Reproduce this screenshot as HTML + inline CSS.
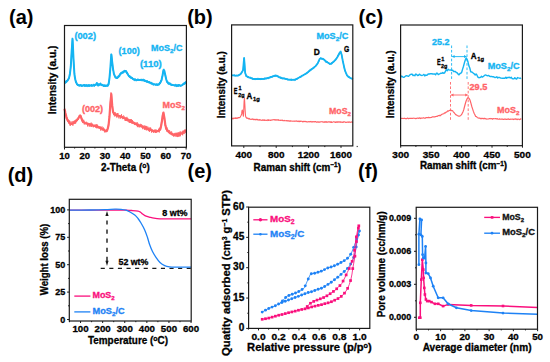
<!DOCTYPE html>
<html><head><meta charset="utf-8"><title>Figure</title>
<style>html,body{margin:0;padding:0;background:#fff;}body{width:550px;height:362px;overflow:hidden;font-family:"Liberation Sans",sans-serif;}svg{display:block;}</style>
</head><body>
<svg width="550" height="362" viewBox="0 0 550 362" font-family="'Liberation Sans', sans-serif">
<rect width="550" height="362" fill="#fff"/>
<text x="9" y="24.3" font-size="20" fill="#000" text-anchor="start" font-weight="bold" >(a)</text>
<text x="187.2" y="24.2" font-size="20" fill="#000" text-anchor="start" font-weight="bold" >(b)</text>
<text x="358.6" y="24.2" font-size="20" fill="#000" text-anchor="start" font-weight="bold" >(c)</text>
<text x="7.7" y="181.6" font-size="20" fill="#000" text-anchor="start" font-weight="bold" >(d)</text>
<text x="187.5" y="177.6" font-size="20" fill="#000" text-anchor="start" font-weight="bold" >(e)</text>
<text x="358" y="177.6" font-size="20" fill="#000" text-anchor="start" font-weight="bold" >(f)</text>
<polyline points="64.5,83 65.4,82.37 66.3,81.68 67.2,80.84 68.1,79.76 69,77.89 69.9,73.97 70.8,66.72 71.7,50.74 72.6,39.07 73.5,58.85 74.4,74 75.3,79.73 76.2,82.59 77.1,84.15 78,85.05 78.9,85.32 79.8,85.38 80.7,85.42 81.6,85.45 82.5,85.48 83.4,85.49 84.3,85.5 85.2,85.5 86.1,85.5 87,85.5 87.9,85.5 88.8,85.5 89.7,85.5 90.6,85.5 91.5,85.5 92.4,85.49 93.3,85.4 94.2,85.21 95.1,84.92 96,84.5 96.9,83.09 97.8,84.99 98.7,84.87 99.6,84.62 100.5,84.21 101.4,84.45 102.3,85.33 103.2,85.4 104.1,85.45 105,85.48 105.9,85.5 106.8,85.5 107.7,85.24 108.6,84.25 109.5,77.8 110.4,67.59 111.3,54.41 112.2,62 113.1,69.37 114,74.21 114.9,76.21 115.8,77.51 116.7,78 117.6,77.54 118.5,76.56 119.4,75.52 120.3,74.26 121.2,73.36 122.1,72.93 123,72.51 123.9,71.38 124.8,70.75 125.7,71.27 126.6,72.21 127.5,73.84 128.4,75.36 129.3,76.27 130.2,76.96 131.1,77.57 132,78.18 132.9,78.79 133.8,79.32 134.7,79.68 135.6,79.83 136.5,79.89 137.4,79.93 138.3,79.96 139.2,80.01 140.1,80.06 141,80.11 141.9,80.16 142.8,80.23 143.7,80.33 144.6,80.55 145.5,80.89 146.4,81.27 147.3,81.61 148.2,81.96 149.1,82.33 150,82.7 150.9,83.06 151.8,83.4 152.7,83.75 153.6,84.1 154.5,84.39 155.4,84.57 156.3,84.71 157.2,84.79 158.1,84.69 159,84.07 159.9,83.11 160.8,81.67 161.7,79.31 162.6,75.16 163.5,69.91 164.4,70.98 165.3,75.31 166.2,79.34 167.1,81.86 168,82.81 168.9,83.44 169.8,83.99 170.7,84.46 171.6,84.78 172.5,84.97 173.4,85.12 174.3,85.24 175.2,85.33 176.1,85.41 177,85.47 177.9,85.53 178.8,85.58 179.7,85.6 180.6,85.54 181.5,85.25 182.4,84.85 183.3,84.18 184.2,83.4 185.1,82.92 186,82.5" fill="none" stroke="#14b4f2" stroke-width="2.0" stroke-linejoin="round"/>
<polyline points="64.5,83.38 64.8,83.97 65.1,83.4 65.4,81.54 65.7,81.55 66,83.05 66.3,80.2 66.6,82.37 66.9,82.02 67.2,80.75 67.5,79.94 67.8,79.51 68.1,79.03 68.4,79.11 68.7,78.7 69,78.05 69.3,78.33 69.6,76.42 69.9,74.33 70.2,73.59 70.5,69.15 70.8,65.7 71.1,62.34 71.4,55.36 71.7,49.34 72,43.17 72.3,37.83 72.6,40.33 72.9,45.83 73.2,52.99 73.5,58.84 73.8,64.09 74.1,68.76 74.4,73.08 74.7,76.95 75,77.36 75.3,79.34 75.6,79.35 75.9,82.78 76.2,81.56 76.5,82.56 76.8,84.91 77.1,84.18 77.4,85.54 77.7,85.22 78,85.78 78.3,84 78.6,85.42 78.9,85.34 79.2,86.46 79.5,84.94 79.8,85.67 80.1,84.07 80.4,85.07 80.7,84.89 81,84.38 81.3,86.39 81.6,85.09 81.9,86.9 82.2,85.74 82.5,85.79 82.8,85.9 83.1,86.02 83.4,84.44 83.7,85.31 84,84.72 84.3,85.21 84.6,84.29 84.9,86.9 85.2,84.65 85.5,86.02 85.8,84.9 86.1,86.62 86.4,85.99 86.7,84.39 87,86.54 87.3,86.83 87.6,86.71 87.9,85.71 88.2,84.44 88.5,84.58 88.8,86.78 89.1,85.66 89.4,84.54 89.7,86.65 90,85.92 90.3,85.71 90.6,85.13 90.9,85.23 91.2,84.72 91.5,84.11 91.8,86.63 92.1,85.4 92.4,85.63 92.7,84.94 93,86.2 93.3,83.98 93.6,84.97 93.9,83.88 94.2,84.08 94.5,86.53 94.8,85.5 95.1,84.7 95.4,84.86 95.7,85.77 96,84.03 96.3,84.23 96.6,83.77 96.9,82.65 97.2,84.06 97.5,85.71 97.8,86.22 98.1,83.92 98.4,86.23 98.7,83.38 99,85.55 99.3,85.64 99.6,83.53 99.9,84.29 100.2,85.35 100.5,82.75 100.8,84.43 101.1,84.91 101.4,84.49 101.7,85.68 102,84.48 102.3,84.42 102.6,84.94 102.9,84.42 103.2,84.94 103.5,86.76 103.8,85.65 104.1,84.97 104.4,84.78 104.7,86.83 105,85.31 105.3,86.93 105.6,85.54 105.9,85.56 106.2,86.69 106.5,86.23 106.8,85.74 107.1,85.25 107.4,86.52 107.7,84.97 108,86.31 108.3,83.5 108.6,84.04 108.9,82.79 109.2,81.83 109.5,77.05 109.8,75.92 110.1,72.2 110.4,68.24 110.7,63.74 111,60.17 111.3,53.91 111.6,54.61 111.9,57.53 112.2,60.65 112.5,63.8 112.8,68.42 113.1,70.39 113.4,70.03 113.7,73.19 114,74.15 114.3,75.3 114.6,76.12 114.9,75.63 115.2,78.1 115.5,77.05 115.8,77.9 116.1,78.18 116.4,76.99 116.7,76.69 117,77.68 117.3,78.57 117.6,78.49 117.9,77.93 118.2,75.75 118.5,77.8 118.8,77.12 119.1,77.03 119.4,75.59 119.7,76.36 120,73.32 120.3,72.85 120.6,72.45 120.9,72.84 121.2,72.61 121.5,72.26 121.8,73.26 122.1,71.55 122.4,73.08 122.7,71.67 123,73.04 123.3,70.86 123.6,71.35 123.9,72.7 124.2,71.02 124.5,71.63 124.8,71.22 125.1,71.2 125.4,70.13 125.7,71.49 126,70.12 126.3,72.7 126.6,73.59 126.9,73.78 127.2,71.92 127.5,73.36 127.8,73.86 128.1,73.76 128.4,75.74 128.7,76.6 129,75.44 129.3,77.35 129.6,77.41 129.9,75.63 130.2,77.76 130.5,78.32 130.8,76.46 131.1,77.79 131.4,78.18 131.7,78.3 132,76.97 132.3,78.87 132.6,78.99 132.9,79.76 133.2,79.89 133.5,78.64 133.8,79.98 134.1,80.56 134.4,80.76 134.7,78.67 135,78.34 135.3,80.25 135.6,78.97 135.9,80.04 136.2,81.2 136.5,79.52 136.8,79.16 137.1,79.78 137.4,80.4 137.7,78.74 138,79.59 138.3,78.87 138.6,80.47 138.9,80.99 139.2,79.64 139.5,79.64 139.8,80.16 140.1,79.2 140.4,79.32 140.7,79.58 141,79.98 141.3,78.87 141.6,80.9 141.9,80.4 142.2,79.58 142.5,78.94 142.8,81.02 143.1,79.15 143.4,79.19 143.7,79.22 144,79.13 144.3,81.68 144.6,79.86 144.9,80.08 145.2,81.77 145.5,81.25 145.8,80.08 146.1,80.95 146.4,82.42 146.7,81.01 147,82.13 147.3,80.4 147.6,82.41 147.9,82.67 148.2,82.94 148.5,82.6 148.8,81.82 149.1,81.02 149.4,82.51 149.7,83.35 150,81.77 150.3,82.12 150.6,83.05 150.9,83.8 151.2,84.36 151.5,82.17 151.8,82.45 152.1,84.41 152.4,84.06 152.7,84.41 153,85.36 153.3,85.31 153.6,85.13 153.9,85.04 154.2,83.99 154.5,84.82 154.8,83.52 155.1,85.3 155.4,85.34 155.7,85.28 156,84.5 156.3,84.34 156.6,84.5 156.9,83.37 157.2,85.82 157.5,84.93 157.8,84.44 158.1,84.84 158.4,85.2 158.7,83.97 159,85.06 159.3,85.03 159.6,83.11 159.9,82.03 160.2,83.52 160.5,83.74 160.8,80.62 161.1,81.62 161.4,81.17 161.7,80.57 162,77.13 162.3,75.59 162.6,76.63 162.9,72.36 163.2,70.84 163.5,70.14 163.8,68.84 164.1,70.35 164.4,70.05 164.7,73.79 165,73.04 165.3,76.11 165.6,75.44 165.9,78.01 166.2,77.94 166.5,80.01 166.8,80.84 167.1,82.51 167.4,82.1 167.7,81.22 168,84.3 168.3,84.21 168.6,84.49 168.9,82.68 169.2,83.31 169.5,83 169.8,82.87 170.1,82.76 170.4,84.33 170.7,83.33 171,83.61 171.3,85.77 171.6,84.73 171.9,83.9 172.2,85.42 172.5,84.26 172.8,85.1 173.1,84.42 173.4,85.17 173.7,85.55 174,85.31 174.3,84.93 174.6,86.15 174.9,86.43 175.2,84.37 175.5,84.27 175.8,84.22 176.1,86.85 176.4,86.75 176.7,84.64 177,86.88 177.3,84.62 177.6,85.53 177.9,85.52 178.2,86.79 178.5,84.18 178.8,85.02 179.1,85.89 179.4,84.29 179.7,84.81 180,85.5 180.3,86.73 180.6,86.32 180.9,86.45 181.2,86.15 181.5,85.88 181.8,86.17 182.1,85.53 182.4,85.55 182.7,84.09 183,83.46 183.3,84.95 183.6,82.89 183.9,84.88 184.2,83.69 184.5,82.71 184.8,84.38 185.1,81.89 185.4,82.83 185.7,81.42 186,83.9" fill="none" stroke="#14b4f2" stroke-width="1.0" stroke-linejoin="round"/>
<polyline points="64.5,108.7 65.4,113.08 66.3,116.59 67.2,119.17 68.1,120.89 69,122.27 69.9,123.43 70.8,123.59 71.7,123.56 72.6,123.49 73.5,123.24 74.4,122.8 75.3,121.99 76.2,120.87 77.1,119.78 78,118.62 78.9,117.29 79.8,115.58 80.7,116.08 81.6,118.74 82.5,120.89 83.4,121.94 84.3,122.59 85.2,123.02 86.1,123.34 87,123.63 87.9,123.91 88.8,124.17 89.7,124.43 90.6,124.68 91.5,124.95 92.4,125.22 93.3,125.49 94.2,125.77 95.1,126.07 96,126.38 96.9,126.7 97.8,127.03 98.7,127.38 99.6,127.74 100.5,128.11 101.4,128.5 102.3,128.9 103.2,129.31 104.1,129.79 105,130.38 105.9,130.89 106.8,131.1 107.7,128.84 108.6,125.1 109.5,116.23 110.4,103.34 111.3,94.07 112.2,105.41 113.1,112.17 114,113.72 114.9,114.45 115.8,114.85 116.7,115.12 117.6,115.37 118.5,115.68 119.4,115.99 120.3,116.32 121.2,116.67 122.1,117.04 123,117.46 123.9,117.91 124.8,118.38 125.7,118.85 126.6,119.31 127.5,119.77 128.4,120.24 129.3,120.7 130.2,121.15 131.1,121.59 132,122.01 132.9,122.43 133.8,122.86 134.7,123.3 135.6,123.77 136.5,124.24 137.4,124.72 138.3,125.16 139.2,125.56 140.1,125.94 141,126.3 141.9,126.65 142.8,127 143.7,127.36 144.6,127.72 145.5,128.07 146.4,128.42 147.3,128.74 148.2,129.06 149.1,129.36 150,129.67 150.9,129.97 151.8,130.31 152.7,130.71 153.6,131.07 154.5,131.33 155.4,131.4 156.3,131.33 157.2,131.18 158.1,130.97 159,130.52 159.9,129.65 160.8,127.36 161.7,122.78 162.6,116 163.5,112.61 164.4,117.84 165.3,124.64 166.2,128.54 167.1,129.99 168,131.14 168.9,132.17 169.8,132.97 170.7,133.5 171.6,133.9 172.5,134.2 173.4,134.45 174.3,134.64 175.2,134.7 176.1,134.68 177,134.63 177.9,134.56 178.8,134.41 179.7,134.18 180.6,133.88 181.5,133.42 182.4,132.86 183.3,132.19 184.2,131.39 185.1,130.74 186,130.3" fill="none" stroke="#ff6468" stroke-width="2.2" stroke-linejoin="round"/>
<polyline points="64.5,109.09 64.8,111.77 65.1,110.55 65.4,114.65 65.7,115.36 66,116.23 66.3,118.93 66.6,117.24 66.9,118.01 67.2,120.17 67.5,121.55 67.8,119.52 68.1,121.77 68.4,119.84 68.7,122.07 69,123.67 69.3,120.47 69.6,124.32 69.9,120.92 70.2,125.97 70.5,123.44 70.8,123.12 71.1,124.73 71.4,123.69 71.7,124.76 72,121.38 72.3,123.84 72.6,123.79 72.9,125.68 73.2,120.96 73.5,122.99 73.8,123.79 74.1,123.22 74.4,120.59 74.7,123.08 75,120.88 75.3,120.41 75.6,123.6 75.9,119.68 76.2,120.63 76.5,121.8 76.8,121.22 77.1,120.05 77.4,121 77.7,118.84 78,119.25 78.3,119.88 78.6,118.73 78.9,118.03 79.2,116.19 79.5,116.38 79.8,115.04 80.1,116.59 80.4,114.82 80.7,115.9 81,118.33 81.3,117.98 81.6,117.9 81.9,121.21 82.2,119.64 82.5,122.68 82.8,122.81 83.1,121.38 83.4,123.05 83.7,119.77 84,121.83 84.3,124.46 84.6,123.17 84.9,123.2 85.2,123.88 85.5,124.06 85.8,123.68 86.1,122.93 86.4,121.79 86.7,122.46 87,122.56 87.3,123.37 87.6,126.42 87.9,123.15 88.2,123.73 88.5,123.42 88.8,124.6 89.1,126.59 89.4,126.37 89.7,123.79 90,123.3 90.3,126.59 90.6,124.65 90.9,125.73 91.2,122.64 91.5,126.86 91.8,124.07 92.1,125.1 92.4,123.65 92.7,124.9 93,127.11 93.3,127.2 93.6,125.45 93.9,127.07 94.2,125.55 94.5,125.21 94.8,126.21 95.1,124.51 95.4,125.21 95.7,127.34 96,127.78 96.3,124.18 96.6,127.8 96.9,128.35 97.2,126.52 97.5,124.65 97.8,127.98 98.1,125.83 98.4,128.01 98.7,126.74 99,128.21 99.3,126.36 99.6,127.62 99.9,127.99 100.2,128.67 100.5,126.57 100.8,130.64 101.1,127.27 101.4,127.49 101.7,127.36 102,126.51 102.3,128.5 102.6,130.45 102.9,130.26 103.2,127.72 103.5,127.56 103.8,128.68 104.1,131.19 104.4,129.92 104.7,132.39 105,131.2 105.3,131.2 105.6,132.13 105.9,132.19 106.2,130.19 106.5,129.81 106.8,130.78 107.1,130.69 107.4,128.03 107.7,128.53 108,128.54 108.3,124.72 108.6,123.22 108.9,121.27 109.2,118.72 109.5,118.63 109.8,109.86 110.1,106.16 110.4,101.6 110.7,98.93 111,92.38 111.3,93.86 111.6,95.54 111.9,100.56 112.2,106.93 112.5,107.29 112.8,111.6 113.1,111.69 113.4,112.47 113.7,115 114,111.96 114.3,116.22 114.6,116.3 114.9,115.32 115.2,112.26 115.5,115.58 115.8,115.37 116.1,116.36 116.4,113.55 116.7,117.48 117,117.21 117.3,113.28 117.6,114.41 117.9,113.03 118.2,117.29 118.5,117.83 118.8,118.33 119.1,116.47 119.4,116.86 119.7,117.03 120,116.58 120.3,118.68 120.6,117 120.9,115.7 121.2,116.74 121.5,114.29 121.8,118.08 122.1,118.05 122.4,116.77 122.7,119.14 123,118.79 123.3,116.76 123.6,115.56 123.9,116 124.2,116.42 124.5,117.2 124.8,118.11 125.1,120.76 125.4,117.54 125.7,120.92 126,119.94 126.3,120.99 126.6,118.8 126.9,116.88 127.2,121.11 127.5,118.45 127.8,118.07 128.1,121.64 128.4,121.2 128.7,118.9 129,119.34 129.3,122.98 129.6,119.65 129.9,122.05 130.2,119.22 130.5,122.94 130.8,119.46 131.1,121.67 131.4,119.31 131.7,122.13 132,123.82 132.3,119.99 132.6,121.12 132.9,123.81 133.2,123.14 133.5,121.74 133.8,123.53 134.1,122.77 134.4,125.04 134.7,122.22 135,124.79 135.3,124.31 135.6,125.02 135.9,123.29 136.2,125.25 136.5,125.28 136.8,123.82 137.1,122.1 137.4,127.12 137.7,125.98 138,123.48 138.3,126.36 138.6,124.15 138.9,125.27 139.2,127.44 139.5,125.42 139.8,124.71 140.1,124.93 140.4,123.86 140.7,124.72 141,125.11 141.3,124.71 141.6,124.26 141.9,126.47 142.2,125.28 142.5,128.12 142.8,129.2 143.1,125.94 143.4,127.61 143.7,127.39 144,125.27 144.3,125.65 144.6,129.72 144.9,127.7 145.2,129.54 145.5,125.82 145.8,128.68 146.1,130.2 146.4,130.32 146.7,125.96 147,128.75 147.3,128.06 147.6,130.2 147.9,126.74 148.2,127.84 148.5,130.79 148.8,129.1 149.1,129.12 149.4,131.9 149.7,128.63 150,127.28 150.3,129.2 150.6,128.06 150.9,127.79 151.2,130.42 151.5,132.54 151.8,130.72 152.1,131.2 152.4,129.66 152.7,131.08 153,132.15 153.3,131.42 153.6,132.65 153.9,131.44 154.2,129.69 154.5,131.76 154.8,131.33 155.1,129.66 155.4,132.02 155.7,133.03 156,129.46 156.3,131.56 156.6,132.5 156.9,130.73 157.2,129.99 157.5,130.45 157.8,131.27 158.1,131.94 158.4,131.17 158.7,128.67 159,132.17 159.3,132.49 159.6,127.92 159.9,128.35 160.2,127.54 160.5,130.29 160.8,129.49 161.1,123.63 161.4,123.64 161.7,121.18 162,120.29 162.3,120.2 162.6,113.76 162.9,112.55 163.2,112.78 163.5,112.73 163.8,115.18 164.1,115.55 164.4,115.98 164.7,119.45 165,125.12 165.3,125.94 165.6,124.5 165.9,129.4 166.2,127.55 166.5,130.58 166.8,127.05 167.1,131.92 167.4,128.61 167.7,130.53 168,131.98 168.3,131.55 168.6,130.11 168.9,130.3 169.2,131.35 169.5,130.41 169.8,131.49 170.1,131.24 170.4,133.15 170.7,132.75 171,134.1 171.3,132.64 171.6,131.48 171.9,133.13 172.2,135.44 172.5,132.93 172.8,133.79 173.1,135.69 173.4,133.96 173.7,136.54 174,136.76 174.3,133.66 174.6,135.91 174.9,133.41 175.2,132.82 175.5,134.37 175.8,135.22 176.1,136.94 176.4,132.82 176.7,135.75 177,134.5 177.3,132.7 177.6,137.05 177.9,135.58 178.2,132.59 178.5,136.58 178.8,132.34 179.1,132.22 179.4,133.39 179.7,136.46 180,131.67 180.3,136.18 180.6,134.46 180.9,131.49 181.2,133.94 181.5,133.2 181.8,133.57 182.1,134.29 182.4,133.79 182.7,135.25 183,130.65 183.3,133.81 183.6,131.46 183.9,133.13 184.2,133.43 184.5,133.71 184.8,129.71 185.1,130.5 185.4,132.89 185.7,132.76 186,129.64" fill="none" stroke="#ff6468" stroke-width="0.9" stroke-linejoin="round"/>
<rect x="64.5" y="25.5" width="121.9" height="121.8" fill="none" stroke="#1a1a1a" stroke-width="1.2"/>
<line x1="64.5" y1="147.3" x2="64.5" y2="149.5" stroke="#1a1a1a" stroke-width="1.0" />
<line x1="74.64" y1="147.3" x2="74.64" y2="148.5" stroke="#1a1a1a" stroke-width="1.0" />
<line x1="84.77" y1="147.3" x2="84.77" y2="149.5" stroke="#1a1a1a" stroke-width="1.0" />
<line x1="94.91" y1="147.3" x2="94.91" y2="148.5" stroke="#1a1a1a" stroke-width="1.0" />
<line x1="105.04" y1="147.3" x2="105.04" y2="149.5" stroke="#1a1a1a" stroke-width="1.0" />
<line x1="115.17" y1="147.3" x2="115.17" y2="148.5" stroke="#1a1a1a" stroke-width="1.0" />
<line x1="125.31" y1="147.3" x2="125.31" y2="149.5" stroke="#1a1a1a" stroke-width="1.0" />
<line x1="135.44" y1="147.3" x2="135.44" y2="148.5" stroke="#1a1a1a" stroke-width="1.0" />
<line x1="145.58" y1="147.3" x2="145.58" y2="149.5" stroke="#1a1a1a" stroke-width="1.0" />
<line x1="155.72" y1="147.3" x2="155.72" y2="148.5" stroke="#1a1a1a" stroke-width="1.0" />
<line x1="165.85" y1="147.3" x2="165.85" y2="149.5" stroke="#1a1a1a" stroke-width="1.0" />
<line x1="175.99" y1="147.3" x2="175.99" y2="148.5" stroke="#1a1a1a" stroke-width="1.0" />
<line x1="186.12" y1="147.3" x2="186.12" y2="149.5" stroke="#1a1a1a" stroke-width="1.0" />
<text x="64.5" y="158.6" font-size="9.6" fill="#000" text-anchor="middle" font-weight="bold" textLength="10.6" lengthAdjust="spacingAndGlyphs" stroke="#000" stroke-width="0.3" >10</text>
<text x="84.77" y="158.6" font-size="9.6" fill="#000" text-anchor="middle" font-weight="bold" textLength="10.6" lengthAdjust="spacingAndGlyphs" stroke="#000" stroke-width="0.3" >20</text>
<text x="105.04" y="158.6" font-size="9.6" fill="#000" text-anchor="middle" font-weight="bold" textLength="10.6" lengthAdjust="spacingAndGlyphs" stroke="#000" stroke-width="0.3" >30</text>
<text x="125.31" y="158.6" font-size="9.6" fill="#000" text-anchor="middle" font-weight="bold" textLength="10.6" lengthAdjust="spacingAndGlyphs" stroke="#000" stroke-width="0.3" >40</text>
<text x="145.58" y="158.6" font-size="9.6" fill="#000" text-anchor="middle" font-weight="bold" textLength="10.6" lengthAdjust="spacingAndGlyphs" stroke="#000" stroke-width="0.3" >50</text>
<text x="165.85" y="158.6" font-size="9.6" fill="#000" text-anchor="middle" font-weight="bold" textLength="10.6" lengthAdjust="spacingAndGlyphs" stroke="#000" stroke-width="0.3" >60</text>
<text x="186.12" y="158.6" font-size="9.6" fill="#000" text-anchor="middle" font-weight="bold" textLength="10.6" lengthAdjust="spacingAndGlyphs" stroke="#000" stroke-width="0.3" >70</text>
<text x="101" y="171.3" font-size="10" fill="#000" text-anchor="start" font-weight="bold" textLength="48.7" lengthAdjust="spacingAndGlyphs" stroke="#000" stroke-width="0.3" >2-Theta (<tspan font-size="7" dy="-3">o</tspan><tspan dy="3">)</tspan></text>
<text x="0" y="0" font-size="10.2" fill="#000" text-anchor="middle" font-weight="bold" textLength="68.6" lengthAdjust="spacingAndGlyphs" stroke="#000" stroke-width="0.3" transform="translate(56.0,80.0) rotate(-90)">Intensity (a.u.)</text>
<text x="74.4" y="39.3" font-size="8.6" fill="#14b4f2" text-anchor="start" font-weight="bold" textLength="21.6" lengthAdjust="spacingAndGlyphs" stroke="#14b4f2" stroke-width="0.3" >(002)</text>
<text x="118.6" y="54.3" font-size="8.6" fill="#14b4f2" text-anchor="start" font-weight="bold" textLength="21.2" lengthAdjust="spacingAndGlyphs" stroke="#14b4f2" stroke-width="0.3" >(100)</text>
<text x="139.9" y="66.5" font-size="8.6" fill="#14b4f2" text-anchor="start" font-weight="bold" textLength="21.9" lengthAdjust="spacingAndGlyphs" stroke="#14b4f2" stroke-width="0.3" >(110)</text>
<text x="151" y="50.8" font-size="8.6" fill="#14b4f2" text-anchor="start" font-weight="bold" textLength="31.5" lengthAdjust="spacingAndGlyphs" stroke="#14b4f2" stroke-width="0.3" >MoS<tspan font-size="6" dy="2">2</tspan><tspan dy="-2">/C</tspan></text>
<text x="81.9" y="112" font-size="8.6" fill="#ff6468" text-anchor="start" font-weight="bold" textLength="21.2" lengthAdjust="spacingAndGlyphs" stroke="#ff6468" stroke-width="0.3" >(002)</text>
<text x="162.6" y="107.6" font-size="8.6" fill="#ff6468" text-anchor="start" font-weight="bold" textLength="22.4" lengthAdjust="spacingAndGlyphs" stroke="#ff6468" stroke-width="0.3" >MoS<tspan font-size="6" dy="2">2</tspan></text>
<polyline points="231.5,75.3 232.55,75.39 233.6,75.47 234.65,75.55 235.7,75.63 236.75,75.69 237.8,75.63 238.85,75.17 239.9,74.56 240.95,73.7 242,72.08 243.05,70.05 244.1,57.8 245.15,72.83 246.2,75.74 247.25,76.53 248.3,77.1 249.35,77.55 250.4,77.96 251.45,78.39 252.5,78.77 253.55,78.98 254.6,79 255.65,79 256.7,79 257.75,79 258.8,79 259.85,79 260.9,79 261.95,79 263,78.97 264.05,78.84 265.1,78.66 266.15,78.47 267.2,78.25 268.25,77.97 269.3,77.65 270.35,77.32 271.4,76.91 272.45,76.47 273.5,76.17 274.55,75.91 275.6,75.73 276.65,75.76 277.7,76.26 278.75,76.88 279.8,77.35 280.85,77.8 281.9,78.17 282.95,78.43 284,78.64 285.05,78.83 286.1,79.02 287.15,79.24 288.2,79.46 289.25,79.64 290.3,79.71 291.35,79.75 292.4,79.78 293.45,79.8 294.5,79.76 295.55,79.44 296.6,78.92 297.65,78.33 298.7,77.81 299.75,77.27 300.8,76.69 301.85,76.09 302.9,75.47 303.95,74.83 305,74.17 306.05,73.48 307.1,72.74 308.15,71.94 309.2,71.12 310.25,70.31 311.3,69.55 312.35,68.78 313.4,67.93 314.45,67.05 315.5,66.1 316.55,64.97 317.6,63.51 318.65,61.22 319.7,58.93 320.75,58.27 321.8,58.58 322.85,58.87 323.9,59.48 324.95,60.46 326,61.4 327.05,62.17 328.1,62.78 329.15,63.39 330.2,63.94 331.25,63.71 332.3,62.68 333.35,61.84 334.4,60.98 335.45,59.89 336.5,58.5 337.55,56.72 338.6,54.72 339.65,52.75 340.7,51.55 341.75,55.32 342.8,60.98 343.85,65.77 344.9,70.41 345.95,72.89 347,75.29 348.05,76.5 349.1,77.27 350.15,77.84 351.2,78.28 352.25,78.64" fill="none" stroke="#14b4f2" stroke-width="1.8" stroke-linejoin="round"/>
<polyline points="231.5,76.18 231.85,75.14 232.2,75.11 232.55,75.9 232.9,75.36 233.25,75.34 233.6,75.24 233.95,75.36 234.3,74.8 234.65,74.67 235,76.09 235.35,75.73 235.7,75.98 236.05,76.26 236.4,75.14 236.75,75.16 237.1,75.25 237.45,75.3 237.8,76.15 238.15,75.26 238.5,75 238.85,75.44 239.2,74.34 239.55,73.98 239.9,74.95 240.25,74.83 240.6,73.63 240.95,73.98 241.3,72.39 241.65,72.62 242,72.24 242.35,70.81 242.7,70.38 243.05,70.27 243.4,67.24 243.75,61.69 244.1,58.21 244.45,59.37 244.8,67.72 245.15,72.24 245.5,73.95 245.85,74.67 246.2,76.73 246.55,75.64 246.9,76.53 247.25,77.51 247.6,77.64 247.95,76.01 248.3,77.14 248.65,77.46 249,77.81 249.35,77.22 249.7,77.34 250.05,76.83 250.4,77.03 250.75,78.2 251.1,77.4 251.45,77.79 251.8,78.19 252.15,77.79 252.5,77.83 252.85,79.72 253.2,78.81 253.55,78.39 253.9,79.42 254.25,78.02 254.6,78.49 254.95,79.92 255.3,79.8 255.65,79.27 256,78.19 256.35,78.64 256.7,78.06 257.05,78.44 257.4,78.05 257.75,78.25 258.1,79.27 258.45,78.2 258.8,78.31 259.15,79.81 259.5,78.67 259.85,78.67 260.2,78.17 260.55,79.59 260.9,79.35 261.25,79.09 261.6,79.24 261.95,78.2 262.3,78.52 262.65,79.16 263,79.87 263.35,79.57 263.7,79.17 264.05,78.88 264.4,77.82 264.75,79.51 265.1,77.8 265.45,77.86 265.8,78.92 266.15,79.1 266.5,78.98 266.85,78.23 267.2,77.6 267.55,77.23 267.9,78.77 268.25,78.92 268.6,77.35 268.95,78.49 269.3,77.46 269.65,77.16 270,77.44 270.35,76.33 270.7,77.08 271.05,76.46 271.4,77.33 271.75,76.76 272.1,77.35 272.45,77.27 272.8,75.99 273.15,75.82 273.5,77.05 273.85,76.09 274.2,75.18 274.55,75 274.9,76.82 275.25,75.93 275.6,74.84 275.95,75.73 276.3,75.71 276.65,75.63 277,76.79 277.35,76.96 277.7,75.51 278.05,75.78 278.4,76.5 278.75,77.55 279.1,77.29 279.45,77.66 279.8,77.51 280.15,76.93 280.5,78.3 280.85,76.83 281.2,78.34 281.55,77.45 281.9,78.11 282.25,79.22 282.6,78.43 282.95,77.55 283.3,78.36 283.65,78.9 284,77.76 284.35,78.21 284.7,77.8 285.05,78.91 285.4,78.65 285.75,78.96 286.1,78.61 286.45,79.4 286.8,78.51 287.15,80.05 287.5,80.24 287.85,79.38 288.2,79.39 288.55,80.25 288.9,79.17 289.25,80.24 289.6,79.25 289.95,80.14 290.3,79.38 290.65,79.93 291,80.59 291.35,78.86 291.7,80.38 292.05,79.86 292.4,79.54 292.75,79.49 293.1,78.93 293.45,79.31 293.8,80.05 294.15,78.99 294.5,80.1 294.85,80.61 295.2,80.53 295.55,80.21 295.9,79.89 296.25,78.46 296.6,79.86 296.95,78.13 297.3,79.26 297.65,79.09 298,78.39 298.35,78.02 298.7,77.21 299.05,77.67 299.4,77.03 299.75,76.52 300.1,76.33 300.45,77.49 300.8,77.53 301.15,75.77 301.5,75.32 301.85,75.61 302.2,75.15 302.55,75.06 302.9,75.64 303.25,75.11 303.6,74.91 303.95,74.24 304.3,74.94 304.65,73.97 305,73.97 305.35,73.87 305.7,74.52 306.05,72.97 306.4,73.68 306.75,72.61 307.1,73.53 307.45,72.27 307.8,72.23 308.15,72.7 308.5,72.02 308.85,70.58 309.2,70.39 309.55,71.83 309.9,69.63 310.25,69.91 310.6,70.97 310.95,68.83 311.3,68.88 311.65,68.73 312,68.22 312.35,68.73 312.7,68.7 313.05,67.86 313.4,67.15 313.75,68.26 314.1,67.95 314.45,67.17 314.8,66.02 315.15,66.51 315.5,66.36 315.85,65.61 316.2,66.1 316.55,64.75 316.9,64.56 317.25,63.3 317.6,63.63 317.95,63.33 318.3,62.47 318.65,60.74 319,61.48 319.35,60.17 319.7,58.78 320.05,58.18 320.4,58.76 320.75,57.62 321.1,58.65 321.45,58.92 321.8,58.61 322.15,59.41 322.5,58.69 322.85,58.79 323.2,58.57 323.55,60.04 323.9,59.11 324.25,60.19 324.6,59.95 324.95,61.33 325.3,61.66 325.65,60.14 326,62.39 326.35,61.9 326.7,61.09 327.05,62.16 327.4,61.49 327.75,62.69 328.1,62.16 328.45,62.71 328.8,62.78 329.15,63.6 329.5,64.25 329.85,64.67 330.2,63.6 330.55,64.14 330.9,62.94 331.25,63.46 331.6,64.31 331.95,62.27 332.3,63.42 332.65,62.69 333,61.7 333.35,62.4 333.7,61.14 334.05,62.07 334.4,60.14 334.75,59.89 335.1,60.79 335.45,59.79 335.8,58.75 336.15,59.02 336.5,58.09 336.85,58.06 337.2,57.84 337.55,57.43 337.9,55.19 338.25,55.6 338.6,55.68 338.95,53.92 339.3,53.88 339.65,51.94 340,52.86 340.35,51.79 340.7,52.32 341.05,52.89 341.4,54.35 341.75,54.44 342.1,58.06 342.45,58.82 342.8,60.51 343.15,62.1 343.5,64.18 343.85,66.03 344.2,68.49 344.55,68.28 344.9,69.8 345.25,71.05 345.6,72.75 345.95,72.99 346.3,73.75 346.65,75.09 347,75.6 347.35,75.37 347.7,75.35 348.05,76.42 348.4,77.54 348.75,77.23 349.1,76.37 349.45,77.36 349.8,77.44 350.15,78.01 350.5,78.17 350.85,79.05 351.2,77.96 351.55,78.22 351.9,78.75 352.25,79.41 352.6,79.17 352.95,78.82" fill="none" stroke="#14b4f2" stroke-width="1.0" stroke-linejoin="round"/>
<polyline points="231.5,118.85 231.85,118.55 232.2,118.89 232.55,118.3 232.9,118.14 233.25,118.66 233.6,118.19 233.95,118.59 234.3,118.36 234.65,118.25 235,117.87 235.35,118.39 235.7,117.79 236.05,118.48 236.4,118.39 236.75,117.91 237.1,117.74 237.45,118.32 237.8,117.96 238.15,117.64 238.5,117.89 238.85,117.63 239.2,117.66 239.55,117.63 239.9,117.53 240.25,117.04 240.6,116.1 240.95,115.81 241.3,115.06 241.65,113.9 242,110.65 242.35,109.96 242.7,112.36 243.05,114.51 243.4,116.31 243.75,109.7 244.1,101.47 244.45,97.91 244.8,103.74 245.15,110.36 245.5,115.62 245.85,117.15 246.2,117.29 246.55,118.07 246.9,118.27 247.25,118.47 247.6,118.07 247.95,118 248.3,118.43 248.65,118.99 249,118.93 249.35,118.45 249.7,119.03 250.05,119.26 250.4,119.36 250.75,119.21 251.1,119.37 251.45,119.39 251.8,119.04 252.15,118.87 252.5,119.4 252.85,118.96 253.2,119.18 253.55,119.7 253.9,119.38 254.25,119.37 254.6,119.74 254.95,119.23 255.3,119.83 255.65,119.8 256,119.39 256.35,119.4 256.7,119.28 257.05,119.96 257.4,119.42 257.75,119.33 258.1,120.09 258.45,119.91 258.8,120.02 259.15,120.12 259.5,119.62 259.85,119.7 260.2,120.07 260.55,119.75 260.9,120.15 261.25,120.36 261.6,120.31 261.95,120.29 262.3,119.84 262.65,119.99 263,120.52 263.35,119.9 263.7,120.23 264.05,119.84 264.4,120.55 264.75,119.94 265.1,120.13 265.45,120.24 265.8,120.37 266.15,120.55 266.5,120.39 266.85,120.08 267.2,119.86 267.55,120.37 267.9,120.58 268.25,119.81 268.6,120.41 268.95,119.92 269.3,120.13 269.65,120.17 270,120.22 270.35,120.5 270.7,120.23 271.05,119.97 271.4,120.21 271.75,119.99 272.1,119.92 272.45,119.86 272.8,119.94 273.15,119.74 273.5,119.69 273.85,119.58 274.2,119.79 274.55,119.66 274.9,120.08 275.25,120.08 275.6,119.68 275.95,119.9 276.3,120.14 276.65,119.72 277,119.89 277.35,119.82 277.7,120 278.05,120.27 278.4,119.64 278.75,120.34 279.1,120.14 279.45,120.29 279.8,120.21 280.15,120.45 280.5,120.07 280.85,120.42 281.2,120.12 281.55,120.36 281.9,120.54 282.25,120.18 282.6,120.11 282.95,120.72 283.3,120.77 283.65,120.68 284,120.44 284.35,120.74 284.7,120.31 285.05,120.8 285.4,120.76 285.75,120.82 286.1,120.71 286.45,120.56 286.8,120.98 287.15,120.8 287.5,121.05 287.85,120.76 288.2,120.57 288.55,120.95 288.9,121.04 289.25,121.3 289.6,121.29 289.95,120.64 290.3,121.23 290.65,120.84 291,121.21 291.35,120.97 291.7,120.94 292.05,121.09 292.4,121.14 292.75,121.29 293.1,121.26 293.45,121.3 293.8,121.08 294.15,121.33 294.5,121.08 294.85,121.3 295.2,121.2 295.55,121.29 295.9,120.87 296.25,121.27 296.6,121.06 296.95,121.2 297.3,120.97 297.65,121.44 298,121.65 298.35,121.23 298.7,121.04 299.05,121.46 299.4,121.08 299.75,121.7 300.1,121.1 300.45,121.3 300.8,121.42 301.15,121.13 301.5,121.31 301.85,121.28 302.2,121.64 302.55,121.87 302.9,121.39 303.25,121.74 303.6,121.23 303.95,121.59 304.3,121.49 304.65,121.38 305,121.82 305.35,121.77 305.7,121.29 306.05,121.43 306.4,121.86 306.75,122.01 307.1,121.71 307.45,121.93 307.8,122.03 308.15,121.85 308.5,121.78 308.85,121.45 309.2,121.58 309.55,121.79 309.9,122.04 310.25,121.55 310.6,121.63 310.95,121.34 311.3,121.89 311.65,121.69 312,121.99 312.35,121.54 312.7,121.89 313.05,121.91 313.4,121.75 313.75,121.54 314.1,121.72 314.45,122 314.8,121.56 315.15,121.49 315.5,121.79 315.85,121.62 316.2,122.08 316.55,122.1 316.9,122.21 317.25,122.13 317.6,121.98 317.95,121.62 318.3,122.13 318.65,122.06 319,122.08 319.35,122.05 319.7,122.16 320.05,121.74 320.4,122.04 320.75,121.92 321.1,121.78 321.45,121.78 321.8,121.65 322.15,121.92 322.5,121.82 322.85,121.87 323.2,122.22 323.55,122.09 323.9,122.09 324.25,122.33 324.6,121.72 324.95,121.96 325.3,121.63 325.65,121.87 326,122.32 326.35,121.64 326.7,122.18 327.05,122.26 327.4,121.98 327.75,122.22 328.1,121.93 328.45,121.87 328.8,121.99 329.15,121.75 329.5,121.84 329.85,121.84 330.2,122.39 330.55,121.87 330.9,121.79 331.25,122.36 331.6,121.73 331.95,122.39 332.3,122.31 332.65,122.14 333,121.97 333.35,121.79 333.7,121.72 334.05,121.72 334.4,121.92 334.75,121.97 335.1,122.39 335.45,122.09 335.8,122.45 336.15,122.24 336.5,121.78 336.85,122.11 337.2,121.8 337.55,121.71 337.9,122.44 338.25,121.95 338.6,121.84 338.95,121.77 339.3,122.22 339.65,122.07 340,121.71 340.35,122.28 340.7,121.91 341.05,122.33 341.4,122.1 341.75,122.14 342.1,122.08 342.45,122.26 342.8,122.52 343.15,122.36 343.5,121.78 343.85,122.13 344.2,121.92 344.55,121.82 344.9,121.9 345.25,121.94 345.6,122.51 345.95,122.34 346.3,122.43 346.65,122.31 347,122.01 347.35,122.07 347.7,122.11 348.05,122 348.4,122.1 348.75,122.39 349.1,121.83 349.45,121.99 349.8,122.16 350.15,122.32 350.5,122.3 350.85,122.36 351.2,121.87 351.55,121.93 351.9,122.04 352.25,122.02 352.6,122.4 352.95,122.59" fill="none" stroke="#ff6468" stroke-width="1.1" stroke-linejoin="round"/>
<rect x="231.6" y="24.9" width="121.2" height="121" fill="none" stroke="#1a1a1a" stroke-width="1.2"/>
<line x1="243.8" y1="145.9" x2="243.8" y2="147.9" stroke="#1a1a1a" stroke-width="1.0" />
<line x1="260" y1="145.9" x2="260" y2="147.1" stroke="#1a1a1a" stroke-width="1.0" />
<line x1="276.2" y1="145.9" x2="276.2" y2="147.9" stroke="#1a1a1a" stroke-width="1.0" />
<line x1="292.4" y1="145.9" x2="292.4" y2="147.1" stroke="#1a1a1a" stroke-width="1.0" />
<line x1="308.6" y1="145.9" x2="308.6" y2="147.9" stroke="#1a1a1a" stroke-width="1.0" />
<line x1="324.8" y1="145.9" x2="324.8" y2="147.1" stroke="#1a1a1a" stroke-width="1.0" />
<line x1="341" y1="145.9" x2="341" y2="147.9" stroke="#1a1a1a" stroke-width="1.0" />
<line x1="357.2" y1="145.9" x2="357.2" y2="147.1" stroke="#1a1a1a" stroke-width="1.0" />
<text x="243.8" y="157.5" font-size="9.6" fill="#000" text-anchor="middle" font-weight="bold" textLength="16.6" lengthAdjust="spacingAndGlyphs" stroke="#000" stroke-width="0.3" >400</text>
<text x="276.2" y="157.5" font-size="9.6" fill="#000" text-anchor="middle" font-weight="bold" textLength="16.6" lengthAdjust="spacingAndGlyphs" stroke="#000" stroke-width="0.3" >800</text>
<text x="308.6" y="157.5" font-size="9.6" fill="#000" text-anchor="middle" font-weight="bold" textLength="21.8" lengthAdjust="spacingAndGlyphs" stroke="#000" stroke-width="0.3" >1200</text>
<text x="341" y="157.5" font-size="9.6" fill="#000" text-anchor="middle" font-weight="bold" textLength="21.8" lengthAdjust="spacingAndGlyphs" stroke="#000" stroke-width="0.3" >1600</text>
<text x="253.6" y="170.5" font-size="10" fill="#000" text-anchor="start" font-weight="bold" textLength="87.4" lengthAdjust="spacingAndGlyphs" stroke="#000" stroke-width="0.3" >Raman shift (cm<tspan font-size="6.5" dy="-3.5">&#8722;1</tspan><tspan dy="3.5">)</tspan></text>
<text x="0" y="0" font-size="10.2" fill="#000" text-anchor="middle" font-weight="bold" textLength="67" lengthAdjust="spacingAndGlyphs" stroke="#000" stroke-width="0.3" transform="translate(224.9,84.7) rotate(-90)">Intensity (a.u.)</text>
<text x="316.5" y="38.6" font-size="8.6" fill="#14b4f2" text-anchor="start" font-weight="bold" textLength="31.8" lengthAdjust="spacingAndGlyphs" stroke="#14b4f2" stroke-width="0.3" >MoS<tspan font-size="6" dy="2">2</tspan><tspan dy="-2">/C</tspan></text>
<text x="313.7" y="54.8" font-size="8.6" fill="#000" text-anchor="start" font-weight="bold" textLength="6.1" lengthAdjust="spacingAndGlyphs" stroke="#000" stroke-width="0.3" >D</text>
<text x="343.9" y="51.9" font-size="8.6" fill="#000" text-anchor="start" font-weight="bold" textLength="5.3" lengthAdjust="spacingAndGlyphs" stroke="#000" stroke-width="0.3" >G</text>
<text x="233.7" y="93.9" font-size="8.6" fill="#000" text-anchor="start" font-weight="bold" textLength="3.7" lengthAdjust="spacingAndGlyphs" stroke="#000" stroke-width="0.3" >E</text>
<text x="238.6" y="90.4" font-size="5.5" fill="#000" text-anchor="start" font-weight="bold" stroke="#000" stroke-width="0.3" >1</text>
<text x="238.2" y="96.8" font-size="5.8" fill="#000" text-anchor="start" font-weight="bold" textLength="6.3" lengthAdjust="spacingAndGlyphs" stroke="#000" stroke-width="0.3" >2g</text>
<text x="246.4" y="98.9" font-size="8.6" fill="#000" text-anchor="start" font-weight="bold" textLength="5.8" lengthAdjust="spacingAndGlyphs" stroke="#000" stroke-width="0.3" >A</text>
<text x="253" y="101.4" font-size="5.8" fill="#000" text-anchor="start" font-weight="bold" stroke="#000" stroke-width="0.3" >1g</text>
<text x="329" y="113.7" font-size="8.6" fill="#ff6468" text-anchor="start" font-weight="bold" textLength="22" lengthAdjust="spacingAndGlyphs" stroke="#ff6468" stroke-width="0.3" >MoS<tspan font-size="6" dy="2">2</tspan></text>
<polyline points="400.5,77.57 401.4,76.09 402.3,76.45 403.2,77.28 404.1,77.35 405,76.52 405.9,75.87 406.8,75.72 407.7,76.1 408.6,76.38 409.5,75.14 410.4,74.66 411.3,74.12 412.2,74.25 413.1,75.58 414,75.06 414.9,75.78 415.8,73.96 416.7,74.58 417.6,75.48 418.5,75.26 419.4,74.12 420.3,74.83 421.2,75.34 422.1,75.47 423,75 423.9,74.46 424.8,75.96 425.7,74.89 426.6,75.31 427.5,74.84 428.4,73.83 429.3,74.05 430.2,73.61 431.1,73.79 432,73.75 432.9,74.13 433.8,73.9 434.7,73.94 435.6,74.81 436.5,73.17 437.4,73.28 438.3,74.62 439.2,73.99 440.1,73.68 441,73.13 441.9,73.41 442.8,72.43 443.7,73.33 444.6,72.84 445.5,71.12 446.4,69.66 447.3,70.72 448.2,69.3 449.1,69.86 450,70.16 450.9,70 451.8,70.32 452.7,70.12 453.6,71.53 454.5,71.38 455.4,71.54 456.3,72.54 457.2,72.79 458.1,74.18 459,74.85 459.9,73.54 460.8,73.27 461.7,72.29 462.6,69.15 463.5,66.23 464.4,62.83 465.3,60.04 466.2,57.86 467.1,59.59 468,61.88 468.9,65.9 469.8,68 470.7,71.71 471.6,71.96 472.5,72.34 473.4,73.37 474.3,73.84 475.2,75.01 476.1,74.05 477,75.17 477.9,77.22 478.8,77.73 479.7,77.55 480.6,77.3 481.5,76.29 482.4,77.15 483.3,76.49 484.2,75.69 485.1,74.93 486,75.13 486.9,75.62 487.8,75.73 488.7,75.4 489.6,76.28 490.5,76.52 491.4,76.36 492.3,76.72 493.2,76.76 494.1,76.97 495,77.54 495.9,77.34 496.8,76.78 497.7,78.01 498.6,77.47 499.5,77.39 500.4,77.95 501.3,78.07 502.2,78.32 503.1,78.3 504,78.08 504.9,78.24 505.8,77.16 506.7,78.3 507.6,77.46 508.5,77.53 509.4,77.3 510.3,77.91 511.2,77.22 512.1,78.55 513,78.79 513.9,78.9 514.8,77.65 515.7,78.71 516.6,79.14 517.5,77.56 518.4,77.9 519.3,78.07 520.2,78.49 521.1,77.93" fill="none" stroke="#14b4f2" stroke-width="1.4" stroke-linejoin="round"/>
<polyline points="400.5,118.43 401.3,118.29 402.1,118.51 402.9,118.42 403.7,118.53 404.5,118.22 405.3,118.54 406.1,118.56 406.9,118.56 407.7,118.1 408.5,118.71 409.3,118.45 410.1,118.24 410.9,118.35 411.7,118.41 412.5,118.41 413.3,118.22 414.1,118.24 414.9,118.3 415.7,118.59 416.5,118.34 417.3,118.04 418.1,118.3 418.9,118.1 419.7,117.93 420.5,118.56 421.3,118.03 422.1,118.15 422.9,117.97 423.7,117.7 424.5,118.23 425.3,118.18 426.1,117.59 426.9,117.68 427.7,117.57 428.5,117.35 429.3,117.61 430.1,117.61 430.9,117.51 431.7,117.37 432.5,116.8 433.3,116.83 434.1,116.89 434.9,116.87 435.7,116.48 436.5,116.34 437.3,116.42 438.1,115.64 438.9,115.58 439.7,115.36 440.5,115.55 441.3,114.65 442.1,114.13 442.9,113.99 443.7,113.75 444.5,112.97 445.3,113 446.1,112.09 446.9,111.91 447.7,110.97 448.5,111.07 449.3,110.31 450.1,110.49 450.9,110.58 451.7,110.43 452.5,110.71 453.3,111.76 454.1,112.72 454.9,113.7 455.7,114.61 456.5,115 457.3,115.5 458.1,115.87 458.9,116.12 459.7,116.09 460.5,115.67 461.3,114.93 462.1,113.58 462.9,111.92 463.7,109.88 464.5,106.73 465.3,103.74 466.1,101 466.9,99.16 467.7,97.95 468.5,97.76 469.3,98.74 470.1,100.33 470.9,103.1 471.7,106.19 472.5,108.59 473.3,111.14 474.1,113.16 474.9,114.68 475.7,116.47 476.5,116.68 477.3,117.37 478.1,118 478.9,118.14 479.7,118.08 480.5,118.66 481.3,118.38 482.1,118.57 482.9,118.27 483.7,118.87 484.5,118.35 485.3,118.59 486.1,118.96 486.9,119.03 487.7,119.02 488.5,118.99 489.3,118.6 490.1,118.47 490.9,118.79 491.7,118.54 492.5,119.18 493.3,118.53 494.1,118.77 494.9,118.7 495.7,118.58 496.5,118.93 497.3,118.65 498.1,119.24 498.9,119.11 499.7,118.9 500.5,119.25 501.3,119.23 502.1,118.92 502.9,119.31 503.7,119.38 504.5,119.18 505.3,119.01 506.1,119.41 506.9,119.46 507.7,119.06 508.5,118.89 509.3,119.45 510.1,119.32 510.9,119.02 511.7,119.27 512.5,119.09 513.3,119.53 514.1,119.13 514.9,119.04 515.7,118.93 516.5,119.15 517.3,119.61 518.1,119.08 518.9,119.25 519.7,119.62 520.5,118.95 521.3,119.15" fill="none" stroke="#ff6468" stroke-width="1.2" stroke-linejoin="round"/>
<rect x="400.6" y="25" width="121.8" height="120.7" fill="none" stroke="#1a1a1a" stroke-width="1.2"/>
<line x1="400.7" y1="145.7" x2="400.7" y2="147.7" stroke="#1a1a1a" stroke-width="1.0" />
<line x1="415.92" y1="145.7" x2="415.92" y2="146.9" stroke="#1a1a1a" stroke-width="1.0" />
<line x1="431.14" y1="145.7" x2="431.14" y2="147.7" stroke="#1a1a1a" stroke-width="1.0" />
<line x1="446.36" y1="145.7" x2="446.36" y2="146.9" stroke="#1a1a1a" stroke-width="1.0" />
<line x1="461.58" y1="145.7" x2="461.58" y2="147.7" stroke="#1a1a1a" stroke-width="1.0" />
<line x1="476.8" y1="145.7" x2="476.8" y2="146.9" stroke="#1a1a1a" stroke-width="1.0" />
<line x1="492.02" y1="145.7" x2="492.02" y2="147.7" stroke="#1a1a1a" stroke-width="1.0" />
<line x1="507.24" y1="145.7" x2="507.24" y2="146.9" stroke="#1a1a1a" stroke-width="1.0" />
<line x1="522.46" y1="145.7" x2="522.46" y2="147.7" stroke="#1a1a1a" stroke-width="1.0" />
<text x="400.7" y="157.5" font-size="9.6" fill="#000" text-anchor="middle" font-weight="bold" textLength="16.8" lengthAdjust="spacingAndGlyphs" stroke="#000" stroke-width="0.3" >300</text>
<text x="431.13" y="157.5" font-size="9.6" fill="#000" text-anchor="middle" font-weight="bold" textLength="16.8" lengthAdjust="spacingAndGlyphs" stroke="#000" stroke-width="0.3" >350</text>
<text x="461.56" y="157.5" font-size="9.6" fill="#000" text-anchor="middle" font-weight="bold" textLength="16.8" lengthAdjust="spacingAndGlyphs" stroke="#000" stroke-width="0.3" >400</text>
<text x="491.99" y="157.5" font-size="9.6" fill="#000" text-anchor="middle" font-weight="bold" textLength="16.8" lengthAdjust="spacingAndGlyphs" stroke="#000" stroke-width="0.3" >450</text>
<text x="522.42" y="157.5" font-size="9.6" fill="#000" text-anchor="middle" font-weight="bold" textLength="16.8" lengthAdjust="spacingAndGlyphs" stroke="#000" stroke-width="0.3" >500</text>
<text x="419.9" y="169.1" font-size="10" fill="#000" text-anchor="start" font-weight="bold" textLength="87.1" lengthAdjust="spacingAndGlyphs" stroke="#000" stroke-width="0.3" >Raman shift (cm<tspan font-size="6.5" dy="-3.5">&#8722;1</tspan><tspan dy="3.5">)</tspan></text>
<text x="0" y="0" font-size="10.2" fill="#000" text-anchor="middle" font-weight="bold" textLength="67.8" lengthAdjust="spacingAndGlyphs" stroke="#000" stroke-width="0.3" transform="translate(393.6,84.3) rotate(-90)">Intensity (a.u.)</text>
<line x1="451.6" y1="45.5" x2="451.6" y2="80.5" stroke="#14b4f2" stroke-width="0.9" stroke-dasharray="2.6,1.8"/>
<line x1="467" y1="45.5" x2="467" y2="80.5" stroke="#14b4f2" stroke-width="0.9" stroke-dasharray="2.6,1.8"/>
<line x1="452.2" y1="56.6" x2="466.4" y2="56.6" stroke="#14b4f2" stroke-width="0.9" />
<path d="M452,56.6 l2.6,-1.5 v3z M466.6,56.6 l-2.6,-1.5 v3z" fill="#14b4f2"/>
<line x1="450.5" y1="82" x2="450.5" y2="120.5" stroke="#ff6468" stroke-width="0.9" stroke-dasharray="2.6,1.8"/>
<line x1="468.2" y1="82" x2="468.2" y2="120.5" stroke="#ff6468" stroke-width="0.9" stroke-dasharray="2.6,1.8"/>
<line x1="451.1" y1="95" x2="467.6" y2="95" stroke="#ff6468" stroke-width="0.9" />
<path d="M450.9,95 l2.6,-1.5 v3z M467.8,95 l-2.6,-1.5 v3z" fill="#ff6468"/>
<text x="432" y="44.9" font-size="8.6" fill="#14b4f2" text-anchor="start" font-weight="bold" textLength="17.4" lengthAdjust="spacingAndGlyphs" stroke="#14b4f2" stroke-width="0.3" >25.2</text>
<text x="469.5" y="90" font-size="8.6" fill="#ff6468" text-anchor="start" font-weight="bold" textLength="17.8" lengthAdjust="spacingAndGlyphs" stroke="#ff6468" stroke-width="0.3" >29.5</text>
<text x="437.1" y="64.9" font-size="8.6" fill="#000" text-anchor="start" font-weight="bold" textLength="3.7" lengthAdjust="spacingAndGlyphs" stroke="#000" stroke-width="0.3" >E</text>
<text x="441.3" y="61" font-size="5.5" fill="#000" text-anchor="start" font-weight="bold" stroke="#000" stroke-width="0.3" >1</text>
<text x="441.1" y="68" font-size="5.8" fill="#000" text-anchor="start" font-weight="bold" textLength="6.3" lengthAdjust="spacingAndGlyphs" stroke="#000" stroke-width="0.3" >2g</text>
<text x="470.7" y="58.6" font-size="8.6" fill="#000" text-anchor="start" font-weight="bold" textLength="5.8" lengthAdjust="spacingAndGlyphs" stroke="#000" stroke-width="0.3" >A</text>
<text x="477.3" y="61.2" font-size="5.8" fill="#000" text-anchor="start" font-weight="bold" stroke="#000" stroke-width="0.3" >1g</text>
<text x="487.7" y="69.2" font-size="8.6" fill="#14b4f2" text-anchor="start" font-weight="bold" textLength="31.9" lengthAdjust="spacingAndGlyphs" stroke="#14b4f2" stroke-width="0.3" >MoS<tspan font-size="6" dy="2">2</tspan><tspan dy="-2">/C</tspan></text>
<text x="497" y="112.8" font-size="8.6" fill="#ff6468" text-anchor="start" font-weight="bold" textLength="22.4" lengthAdjust="spacingAndGlyphs" stroke="#ff6468" stroke-width="0.3" >MoS<tspan font-size="6" dy="2">2</tspan></text>
<line x1="100.7" y1="268.4" x2="191" y2="268.4" stroke="#1a1a1a" stroke-width="1.4" stroke-dasharray="4.1,4.5"/>
<path d="M69.5,210.1 C74.58,210.1 91.58,210.12 100,210.1 C108.42,210.08 115.58,210 120,210 C124.42,210 124.5,210.02 126.5,210.1 C128.5,210.18 130.08,210.32 132,210.5 C133.92,210.68 136.58,210.92 138,211.2 C139.42,211.48 139.75,211.73 140.5,212.2 C141.25,212.67 141.83,213.47 142.5,214 C143.17,214.53 143.75,215 144.5,215.4 C145.25,215.8 146.08,216.08 147,216.4 C147.92,216.72 148.83,217 150,217.3 C151.17,217.6 152.33,217.95 154,218.2 C155.67,218.45 157.33,218.68 160,218.8 C162.67,218.92 164.83,218.88 170,218.9 C175.17,218.92 187.5,218.9 191,218.9" fill="none" stroke="#fa0f7d" stroke-width="1.3" />
<path d="M69.5,210.1 C72.92,210.08 84.08,210.07 90,210 C95.92,209.93 100.83,209.85 105,209.7 C109.17,209.55 112.33,209.17 115,209.1 C117.67,209.03 119.17,209.12 121,209.3 C122.83,209.48 124.5,209.75 126,210.2 C127.5,210.65 128.53,211.2 130,212 C131.47,212.8 133.47,213.92 134.8,215 C136.13,216.08 136.97,217.17 138,218.5 C139.03,219.83 139.88,221.1 141,223 C142.12,224.9 143.62,227.48 144.7,229.9 C145.78,232.32 146.67,235.02 147.5,237.5 C148.33,239.98 148.87,242.47 149.7,244.8 C150.53,247.13 151.45,249.42 152.5,251.5 C153.55,253.58 154.75,255.47 156,257.3 C157.25,259.13 158.55,261.12 160,262.5 C161.45,263.88 163.1,264.88 164.7,265.6 C166.3,266.32 167.88,266.55 169.6,266.8 C171.32,267.05 171.43,267.05 175,267.1 C178.57,267.15 188.33,267.1 191,267.1" fill="none" stroke="#1e82f5" stroke-width="1.3" />
<line x1="107" y1="220.4" x2="107" y2="261" stroke="#1a1a1a" stroke-width="1.4" stroke-dasharray="4.2,4.9"/>
<path d="M107,210.9 l-1.6,5.2 h3.2z M107,265.9 l-1.6,-5.2 h3.2z" fill="#1a1a1a"/>
<rect x="69.3" y="199.3" width="121.9" height="121.7" fill="none" stroke="#1a1a1a" stroke-width="1.2"/>
<line x1="67.1" y1="209.9" x2="69.3" y2="209.9" stroke="#1a1a1a" stroke-width="1.0" />
<line x1="68.1" y1="223.6" x2="69.3" y2="223.6" stroke="#1a1a1a" stroke-width="1.0" />
<line x1="67.1" y1="237.3" x2="69.3" y2="237.3" stroke="#1a1a1a" stroke-width="1.0" />
<line x1="68.1" y1="251" x2="69.3" y2="251" stroke="#1a1a1a" stroke-width="1.0" />
<line x1="67.1" y1="264.7" x2="69.3" y2="264.7" stroke="#1a1a1a" stroke-width="1.0" />
<line x1="68.1" y1="278.4" x2="69.3" y2="278.4" stroke="#1a1a1a" stroke-width="1.0" />
<line x1="67.1" y1="292.1" x2="69.3" y2="292.1" stroke="#1a1a1a" stroke-width="1.0" />
<line x1="68.1" y1="305.8" x2="69.3" y2="305.8" stroke="#1a1a1a" stroke-width="1.0" />
<line x1="67.1" y1="319.5" x2="69.3" y2="319.5" stroke="#1a1a1a" stroke-width="1.0" />
<text x="65.3" y="212.9" font-size="9" fill="#000" text-anchor="end" font-weight="bold" stroke="#000" stroke-width="0.3" >100</text>
<text x="65.3" y="240.3" font-size="9" fill="#000" text-anchor="end" font-weight="bold" stroke="#000" stroke-width="0.3" >75</text>
<text x="65.3" y="267.7" font-size="9" fill="#000" text-anchor="end" font-weight="bold" stroke="#000" stroke-width="0.3" >50</text>
<text x="65.3" y="295.1" font-size="9" fill="#000" text-anchor="end" font-weight="bold" stroke="#000" stroke-width="0.3" >25</text>
<text x="65.3" y="322.5" font-size="9" fill="#000" text-anchor="end" font-weight="bold" stroke="#000" stroke-width="0.3" >0</text>
<line x1="69.5" y1="321" x2="69.5" y2="322.2" stroke="#1a1a1a" stroke-width="1.0" />
<line x1="80.55" y1="321" x2="80.55" y2="323" stroke="#1a1a1a" stroke-width="1.0" />
<line x1="91.6" y1="321" x2="91.6" y2="322.2" stroke="#1a1a1a" stroke-width="1.0" />
<line x1="102.65" y1="321" x2="102.65" y2="323" stroke="#1a1a1a" stroke-width="1.0" />
<line x1="113.7" y1="321" x2="113.7" y2="322.2" stroke="#1a1a1a" stroke-width="1.0" />
<line x1="124.75" y1="321" x2="124.75" y2="323" stroke="#1a1a1a" stroke-width="1.0" />
<line x1="135.8" y1="321" x2="135.8" y2="322.2" stroke="#1a1a1a" stroke-width="1.0" />
<line x1="146.85" y1="321" x2="146.85" y2="323" stroke="#1a1a1a" stroke-width="1.0" />
<line x1="157.9" y1="321" x2="157.9" y2="322.2" stroke="#1a1a1a" stroke-width="1.0" />
<line x1="168.95" y1="321" x2="168.95" y2="323" stroke="#1a1a1a" stroke-width="1.0" />
<line x1="180" y1="321" x2="180" y2="322.2" stroke="#1a1a1a" stroke-width="1.0" />
<line x1="191.05" y1="321" x2="191.05" y2="323" stroke="#1a1a1a" stroke-width="1.0" />
<text x="80.55" y="332.4" font-size="9.2" fill="#000" text-anchor="middle" font-weight="bold" textLength="16.2" lengthAdjust="spacingAndGlyphs" stroke="#000" stroke-width="0.3" >100</text>
<text x="102.65" y="332.4" font-size="9.2" fill="#000" text-anchor="middle" font-weight="bold" textLength="16.2" lengthAdjust="spacingAndGlyphs" stroke="#000" stroke-width="0.3" >200</text>
<text x="124.75" y="332.4" font-size="9.2" fill="#000" text-anchor="middle" font-weight="bold" textLength="16.2" lengthAdjust="spacingAndGlyphs" stroke="#000" stroke-width="0.3" >300</text>
<text x="146.85" y="332.4" font-size="9.2" fill="#000" text-anchor="middle" font-weight="bold" textLength="16.2" lengthAdjust="spacingAndGlyphs" stroke="#000" stroke-width="0.3" >400</text>
<text x="168.95" y="332.4" font-size="9.2" fill="#000" text-anchor="middle" font-weight="bold" textLength="16.2" lengthAdjust="spacingAndGlyphs" stroke="#000" stroke-width="0.3" >500</text>
<text x="191.05" y="332.4" font-size="9.2" fill="#000" text-anchor="middle" font-weight="bold" textLength="16.2" lengthAdjust="spacingAndGlyphs" stroke="#000" stroke-width="0.3" >600</text>
<text x="88" y="343.5" font-size="10" fill="#000" text-anchor="start" font-weight="bold" textLength="80" lengthAdjust="spacingAndGlyphs" stroke="#000" stroke-width="0.3" >Temperature (<tspan font-size="7" dy="-3">o</tspan><tspan dy="3">C)</tspan></text>
<text x="0" y="0" font-size="10.2" fill="#000" text-anchor="middle" font-weight="bold" textLength="71.5" lengthAdjust="spacingAndGlyphs" stroke="#000" stroke-width="0.3" transform="translate(48.1,259.5) rotate(-90)">Weight loss (%)</text>
<text x="162.2" y="215.9" font-size="8.6" fill="#000" text-anchor="start" font-weight="bold" textLength="25.4" lengthAdjust="spacingAndGlyphs" stroke="#000" stroke-width="0.3" >8 wt%</text>
<text x="118.5" y="265.4" font-size="8.6" fill="#000" text-anchor="start" font-weight="bold" textLength="29.9" lengthAdjust="spacingAndGlyphs" stroke="#000" stroke-width="0.3" >52 wt%</text>
<line x1="74.3" y1="296.1" x2="90.4" y2="296.1" stroke="#fa0f7d" stroke-width="1.3" />
<line x1="74.3" y1="311.9" x2="90.4" y2="311.9" stroke="#1e82f5" stroke-width="1.3" />
<text x="92.5" y="298.3" font-size="8.8" fill="#fa0f7d" text-anchor="start" font-weight="bold" textLength="22.2" lengthAdjust="spacingAndGlyphs" stroke="#fa0f7d" stroke-width="0.3" >MoS<tspan font-size="6" dy="2">2</tspan></text>
<text x="92.5" y="314.2" font-size="8.8" fill="#1e82f5" text-anchor="start" font-weight="bold" textLength="32.1" lengthAdjust="spacingAndGlyphs" stroke="#1e82f5" stroke-width="0.3" >MoS<tspan font-size="6" dy="2">2</tspan><tspan dy="-2">/C</tspan></text>
<polyline points="262.2,312.1 265,310.4 268,308.9 271,307.5 275,305.9 278.3,304.2 281.6,302.6 284.9,301.4 288.2,300.1 291.6,298.8 294.9,297.6 298.2,296.4 301.5,295.1 304.8,293.8 308.1,292.6 311.4,291.8 314.7,290.6 318,289.3 321.4,288.2 324.7,286.5 326.6,285.2 330,283.2 334.9,279.4 339,276.2 343.1,272.5 346,270 348.7,267 350.8,263.8 352.8,260.1 354.3,255.5 355.6,250.4 357.2,241 359.4,231" fill="none" stroke="#1e82f5" stroke-width="0.8"/>
<circle cx="262.2" cy="312.1" r="1.45" fill="#1e82f5"/>
<circle cx="265.48" cy="310.16" r="1.45" fill="#1e82f5"/>
<circle cx="268.76" cy="308.54" r="1.45" fill="#1e82f5"/>
<circle cx="272.05" cy="307.08" r="1.45" fill="#1e82f5"/>
<circle cx="275.34" cy="305.73" r="1.45" fill="#1e82f5"/>
<circle cx="278.62" cy="304.05" r="1.45" fill="#1e82f5"/>
<circle cx="281.9" cy="302.49" r="1.45" fill="#1e82f5"/>
<circle cx="285.2" cy="301.28" r="1.45" fill="#1e82f5"/>
<circle cx="288.49" cy="299.99" r="1.45" fill="#1e82f5"/>
<circle cx="291.78" cy="298.74" r="1.45" fill="#1e82f5"/>
<circle cx="295.07" cy="297.54" r="1.45" fill="#1e82f5"/>
<circle cx="298.36" cy="296.34" r="1.45" fill="#1e82f5"/>
<circle cx="301.65" cy="295.04" r="1.45" fill="#1e82f5"/>
<circle cx="304.94" cy="293.75" r="1.45" fill="#1e82f5"/>
<circle cx="308.23" cy="292.57" r="1.45" fill="#1e82f5"/>
<circle cx="311.53" cy="291.75" r="1.45" fill="#1e82f5"/>
<circle cx="314.82" cy="290.55" r="1.45" fill="#1e82f5"/>
<circle cx="318.11" cy="289.27" r="1.45" fill="#1e82f5"/>
<circle cx="321.4" cy="288.2" r="1.45" fill="#1e82f5"/>
<circle cx="324.68" cy="286.51" r="1.45" fill="#1e82f5"/>
<circle cx="327.96" cy="284.4" r="1.45" fill="#1e82f5"/>
<circle cx="331.23" cy="282.25" r="1.45" fill="#1e82f5"/>
<circle cx="334.49" cy="279.72" r="1.45" fill="#1e82f5"/>
<circle cx="337.75" cy="277.18" r="1.45" fill="#1e82f5"/>
<circle cx="341" cy="274.39" r="1.45" fill="#1e82f5"/>
<circle cx="344.25" cy="271.51" r="1.45" fill="#1e82f5"/>
<circle cx="347.49" cy="268.35" r="1.45" fill="#1e82f5"/>
<circle cx="350.67" cy="264" r="1.45" fill="#1e82f5"/>
<circle cx="353.68" cy="257.41" r="1.45" fill="#1e82f5"/>
<circle cx="356.2" cy="246.9" r="1.45" fill="#1e82f5"/>
<circle cx="358.49" cy="235.11" r="1.45" fill="#1e82f5"/>
<polyline points="359.4,231 357.2,236.5 355.6,242.1 353.6,247.6 351.4,253.1 348.7,257.3 346,259.5 343.1,261.4 339,263.6 334.9,265.6 330.8,267.1 326.6,268.3 324.7,269.5 321.4,271.1 318,272.3 314.7,273.3 310.6,273.9 307.3,281 304.5,287.7 300.7,290.5 297.4,292.3 294,293.5 289.9,295.1 286.6,296.4 284.1,299.3 281.6,301.7 280,303" fill="none" stroke="#1e82f5" stroke-width="0.8"/>
<circle cx="359.4" cy="231" r="1.45" fill="#1e82f5"/>
<circle cx="356.51" cy="238.91" r="1.45" fill="#1e82f5"/>
<circle cx="353.68" cy="247.37" r="1.45" fill="#1e82f5"/>
<circle cx="350.69" cy="254.21" r="1.45" fill="#1e82f5"/>
<circle cx="347.5" cy="258.28" r="1.45" fill="#1e82f5"/>
<circle cx="344.23" cy="260.66" r="1.45" fill="#1e82f5"/>
<circle cx="340.96" cy="262.55" r="1.45" fill="#1e82f5"/>
<circle cx="337.67" cy="264.25" r="1.45" fill="#1e82f5"/>
<circle cx="334.39" cy="265.79" r="1.45" fill="#1e82f5"/>
<circle cx="331.1" cy="266.99" r="1.45" fill="#1e82f5"/>
<circle cx="327.8" cy="267.96" r="1.45" fill="#1e82f5"/>
<circle cx="324.52" cy="269.59" r="1.45" fill="#1e82f5"/>
<circle cx="321.23" cy="271.16" r="1.45" fill="#1e82f5"/>
<circle cx="317.94" cy="272.32" r="1.45" fill="#1e82f5"/>
<circle cx="314.65" cy="273.31" r="1.45" fill="#1e82f5"/>
<circle cx="311.35" cy="273.79" r="1.45" fill="#1e82f5"/>
<circle cx="308.26" cy="278.94" r="1.45" fill="#1e82f5"/>
<circle cx="305.26" cy="285.87" r="1.45" fill="#1e82f5"/>
<circle cx="302.07" cy="289.49" r="1.45" fill="#1e82f5"/>
<circle cx="298.8" cy="291.54" r="1.45" fill="#1e82f5"/>
<circle cx="295.51" cy="292.97" r="1.45" fill="#1e82f5"/>
<circle cx="292.22" cy="294.19" r="1.45" fill="#1e82f5"/>
<circle cx="288.93" cy="295.48" r="1.45" fill="#1e82f5"/>
<circle cx="285.66" cy="297.49" r="1.45" fill="#1e82f5"/>
<circle cx="282.44" cy="300.9" r="1.45" fill="#1e82f5"/>
<polyline points="262.2,319.3 265,318.8 268,318.3 271.5,317.3 275,316.3 278.3,315.3 281.6,314.6 284.9,313.7 288.2,312.8 291.6,312 294.9,311.2 298.2,310.3 301.5,309.5 304.8,308.9 308.1,308 311.4,307 314.7,306.2 318,305.4 321.4,304.7 324.7,303.7 326.6,303.3 330.8,302 334.9,300.1 338.5,298.3 341.8,296 344.8,292.8 347.3,289.1 349.3,284.5 350.9,279.4 352,274 352.8,268.3 353.8,262.8 354.8,257.3 355.6,250 356.4,242.1 357.4,234 358.8,225.8" fill="none" stroke="#fa0f7d" stroke-width="0.8"/>
<rect x="260.85" y="317.95" width="2.7" height="2.7" fill="#fa0f7d"/>
<rect x="264.15" y="317.37" width="2.7" height="2.7" fill="#fa0f7d"/>
<rect x="267.45" y="316.72" width="2.7" height="2.7" fill="#fa0f7d"/>
<rect x="270.74" y="315.78" width="2.7" height="2.7" fill="#fa0f7d"/>
<rect x="274.03" y="314.83" width="2.7" height="2.7" fill="#fa0f7d"/>
<rect x="277.33" y="313.87" width="2.7" height="2.7" fill="#fa0f7d"/>
<rect x="280.63" y="313.15" width="2.7" height="2.7" fill="#fa0f7d"/>
<rect x="283.92" y="312.25" width="2.7" height="2.7" fill="#fa0f7d"/>
<rect x="287.22" y="311.36" width="2.7" height="2.7" fill="#fa0f7d"/>
<rect x="290.51" y="310.59" width="2.7" height="2.7" fill="#fa0f7d"/>
<rect x="293.81" y="309.78" width="2.7" height="2.7" fill="#fa0f7d"/>
<rect x="297.1" y="308.89" width="2.7" height="2.7" fill="#fa0f7d"/>
<rect x="300.4" y="308.1" width="2.7" height="2.7" fill="#fa0f7d"/>
<rect x="303.7" y="307.48" width="2.7" height="2.7" fill="#fa0f7d"/>
<rect x="306.99" y="306.58" width="2.7" height="2.7" fill="#fa0f7d"/>
<rect x="310.29" y="305.59" width="2.7" height="2.7" fill="#fa0f7d"/>
<rect x="313.58" y="304.79" width="2.7" height="2.7" fill="#fa0f7d"/>
<rect x="316.88" y="304" width="2.7" height="2.7" fill="#fa0f7d"/>
<rect x="320.18" y="303.31" width="2.7" height="2.7" fill="#fa0f7d"/>
<rect x="323.47" y="302.32" width="2.7" height="2.7" fill="#fa0f7d"/>
<rect x="326.77" y="301.48" width="2.7" height="2.7" fill="#fa0f7d"/>
<rect x="330.06" y="300.37" width="2.7" height="2.7" fill="#fa0f7d"/>
<rect x="333.34" y="298.85" width="2.7" height="2.7" fill="#fa0f7d"/>
<rect x="336.63" y="297.21" width="2.7" height="2.7" fill="#fa0f7d"/>
<rect x="339.9" y="295.03" width="2.7" height="2.7" fill="#fa0f7d"/>
<rect x="343.13" y="291.79" width="2.7" height="2.7" fill="#fa0f7d"/>
<rect x="346.28" y="286.98" width="2.7" height="2.7" fill="#fa0f7d"/>
<rect x="349.19" y="279.21" width="2.7" height="2.7" fill="#fa0f7d"/>
<rect x="351.41" y="267.22" width="2.7" height="2.7" fill="#fa0f7d"/>
<rect x="353.58" y="254.8" width="2.7" height="2.7" fill="#fa0f7d"/>
<rect x="355.12" y="240.21" width="2.7" height="2.7" fill="#fa0f7d"/>
<rect x="357.04" y="226.86" width="2.7" height="2.7" fill="#fa0f7d"/>
<polyline points="358.8,225.8 357.4,231 356.4,236.6 355.6,242 354.8,247.6 354.2,252.5 353.6,257.3 352.4,260.8 350.9,264.2 349.2,268.5 347.3,272.5 344.7,278 341.8,283.5 338.4,287.2 334.9,290.4 330.8,293.3 326.6,296 324.7,297.1 321.4,298.4 318,299.7 314.7,300.9 311.4,302.6 309.8,303.7 307.3,306.4 305.6,308.4" fill="none" stroke="#fa0f7d" stroke-width="0.8"/>
<rect x="357.45" y="224.45" width="2.7" height="2.7" fill="#fa0f7d"/>
<rect x="355.02" y="235.47" width="2.7" height="2.7" fill="#fa0f7d"/>
<rect x="353.12" y="248.95" width="2.7" height="2.7" fill="#fa0f7d"/>
<rect x="350.81" y="259.99" width="2.7" height="2.7" fill="#fa0f7d"/>
<rect x="347.84" y="267.17" width="2.7" height="2.7" fill="#fa0f7d"/>
<rect x="344.8" y="273.59" width="2.7" height="2.7" fill="#fa0f7d"/>
<rect x="341.74" y="279.71" width="2.7" height="2.7" fill="#fa0f7d"/>
<rect x="338.57" y="284.2" width="2.7" height="2.7" fill="#fa0f7d"/>
<rect x="335.33" y="287.42" width="2.7" height="2.7" fill="#fa0f7d"/>
<rect x="332.08" y="290.09" width="2.7" height="2.7" fill="#fa0f7d"/>
<rect x="328.81" y="292.36" width="2.7" height="2.7" fill="#fa0f7d"/>
<rect x="325.54" y="294.47" width="2.7" height="2.7" fill="#fa0f7d"/>
<rect x="322.25" y="296.18" width="2.7" height="2.7" fill="#fa0f7d"/>
<rect x="318.96" y="297.47" width="2.7" height="2.7" fill="#fa0f7d"/>
<rect x="315.67" y="298.71" width="2.7" height="2.7" fill="#fa0f7d"/>
<rect x="312.38" y="300.05" width="2.7" height="2.7" fill="#fa0f7d"/>
<rect x="309.11" y="301.9" width="2.7" height="2.7" fill="#fa0f7d"/>
<rect x="305.87" y="305.14" width="2.7" height="2.7" fill="#fa0f7d"/>
<rect x="248.6" y="207.2" width="121.2" height="121.2" fill="none" stroke="#1a1a1a" stroke-width="1.2"/>
<line x1="246.2" y1="207" x2="248.6" y2="207" stroke="#1a1a1a" stroke-width="1.0" />
<line x1="247.3" y1="222.18" x2="248.6" y2="222.18" stroke="#1a1a1a" stroke-width="1.0" />
<line x1="246.2" y1="237.35" x2="248.6" y2="237.35" stroke="#1a1a1a" stroke-width="1.0" />
<line x1="247.3" y1="252.53" x2="248.6" y2="252.53" stroke="#1a1a1a" stroke-width="1.0" />
<line x1="246.2" y1="267.7" x2="248.6" y2="267.7" stroke="#1a1a1a" stroke-width="1.0" />
<line x1="247.3" y1="282.88" x2="248.6" y2="282.88" stroke="#1a1a1a" stroke-width="1.0" />
<line x1="246.2" y1="298.05" x2="248.6" y2="298.05" stroke="#1a1a1a" stroke-width="1.0" />
<line x1="247.3" y1="313.23" x2="248.6" y2="313.23" stroke="#1a1a1a" stroke-width="1.0" />
<line x1="246.2" y1="328.4" x2="248.6" y2="328.4" stroke="#1a1a1a" stroke-width="1.0" />
<text x="244.3" y="209.6" font-size="10" fill="#000" text-anchor="end" font-weight="bold" textLength="11.2" lengthAdjust="spacingAndGlyphs" stroke="#000" stroke-width="0.3" >60</text>
<text x="244.3" y="239.95" font-size="10" fill="#000" text-anchor="end" font-weight="bold" textLength="11.2" lengthAdjust="spacingAndGlyphs" stroke="#000" stroke-width="0.3" >45</text>
<text x="244.3" y="270.3" font-size="10" fill="#000" text-anchor="end" font-weight="bold" textLength="11.2" lengthAdjust="spacingAndGlyphs" stroke="#000" stroke-width="0.3" >30</text>
<text x="244.3" y="300.65" font-size="10" fill="#000" text-anchor="end" font-weight="bold" textLength="11.2" lengthAdjust="spacingAndGlyphs" stroke="#000" stroke-width="0.3" >15</text>
<text x="244.3" y="331" font-size="10" fill="#000" text-anchor="end" font-weight="bold" textLength="5.6" lengthAdjust="spacingAndGlyphs" stroke="#000" stroke-width="0.3" >0</text>
<line x1="248.4" y1="328.4" x2="248.4" y2="329.6" stroke="#1a1a1a" stroke-width="1.0" />
<line x1="258.51" y1="328.4" x2="258.51" y2="330.4" stroke="#1a1a1a" stroke-width="1.0" />
<line x1="268.62" y1="328.4" x2="268.62" y2="329.6" stroke="#1a1a1a" stroke-width="1.0" />
<line x1="278.73" y1="328.4" x2="278.73" y2="330.4" stroke="#1a1a1a" stroke-width="1.0" />
<line x1="288.84" y1="328.4" x2="288.84" y2="329.6" stroke="#1a1a1a" stroke-width="1.0" />
<line x1="298.95" y1="328.4" x2="298.95" y2="330.4" stroke="#1a1a1a" stroke-width="1.0" />
<line x1="309.06" y1="328.4" x2="309.06" y2="329.6" stroke="#1a1a1a" stroke-width="1.0" />
<line x1="319.17" y1="328.4" x2="319.17" y2="330.4" stroke="#1a1a1a" stroke-width="1.0" />
<line x1="329.28" y1="328.4" x2="329.28" y2="329.6" stroke="#1a1a1a" stroke-width="1.0" />
<line x1="339.39" y1="328.4" x2="339.39" y2="330.4" stroke="#1a1a1a" stroke-width="1.0" />
<line x1="349.5" y1="328.4" x2="349.5" y2="329.6" stroke="#1a1a1a" stroke-width="1.0" />
<line x1="359.61" y1="328.4" x2="359.61" y2="330.4" stroke="#1a1a1a" stroke-width="1.0" />
<text x="258.5" y="339.9" font-size="9.6" fill="#000" text-anchor="middle" font-weight="bold" textLength="14.2" lengthAdjust="spacingAndGlyphs" stroke="#000" stroke-width="0.3" >0.0</text>
<text x="278.72" y="339.9" font-size="9.6" fill="#000" text-anchor="middle" font-weight="bold" textLength="14.2" lengthAdjust="spacingAndGlyphs" stroke="#000" stroke-width="0.3" >0.2</text>
<text x="298.94" y="339.9" font-size="9.6" fill="#000" text-anchor="middle" font-weight="bold" textLength="14.2" lengthAdjust="spacingAndGlyphs" stroke="#000" stroke-width="0.3" >0.4</text>
<text x="319.16" y="339.9" font-size="9.6" fill="#000" text-anchor="middle" font-weight="bold" textLength="14.2" lengthAdjust="spacingAndGlyphs" stroke="#000" stroke-width="0.3" >0.6</text>
<text x="339.38" y="339.9" font-size="9.6" fill="#000" text-anchor="middle" font-weight="bold" textLength="14.2" lengthAdjust="spacingAndGlyphs" stroke="#000" stroke-width="0.3" >0.8</text>
<text x="359.6" y="339.9" font-size="9.6" fill="#000" text-anchor="middle" font-weight="bold" textLength="14.2" lengthAdjust="spacingAndGlyphs" stroke="#000" stroke-width="0.3" >1.0</text>
<text x="247.1" y="351" font-size="10.7" fill="#000" text-anchor="start" font-weight="bold" textLength="124.7" lengthAdjust="spacingAndGlyphs" stroke="#000" stroke-width="0.3" >Relative pressure (p/p<tspan font-size="7" dy="-3.5">o</tspan><tspan dy="3.5">)</tspan></text>
<text x="0" y="0" font-size="10.8" fill="#000" text-anchor="middle" font-weight="bold" textLength="166" lengthAdjust="spacingAndGlyphs" stroke="#000" stroke-width="0.3" transform="translate(230.4,273) rotate(-90)">Quatity adsorbed (cm<tspan font-size="6.5" dy="-3.5">3</tspan><tspan dy="3.5"> g</tspan><tspan font-size="6.5" dy="-3.5">&#8722;1</tspan><tspan dy="3.5"> STP)</tspan></text>
<line x1="253.3" y1="219.8" x2="267.5" y2="219.8" stroke="#fa0f7d" stroke-width="1.3" />
<circle cx="260.4" cy="219.8" r="1.7" fill="#fa0f7d"/>
<line x1="253.3" y1="234.2" x2="267.5" y2="234.2" stroke="#1e82f5" stroke-width="1.3" />
<circle cx="260.4" cy="234.2" r="1.3" fill="#1e82f5"/>
<text x="270" y="221.8" font-size="9.8" fill="#fa0f7d" text-anchor="start" font-weight="bold" stroke="#fa0f7d" stroke-width="0.3" >MoS<tspan font-size="6.8" dy="2.6">2</tspan></text>
<text x="270" y="236.7" font-size="9.8" fill="#1e82f5" text-anchor="start" font-weight="bold" stroke="#1e82f5" stroke-width="0.3" >MoS<tspan font-size="6.8" dy="2.6">2</tspan><tspan dy="-2.6">/C</tspan></text>
<polyline points="419.3,317.7 420.3,317.7 420.3,302.8 421.3,279.6 422.3,259.7 423.3,269.6 423.6,277.9 424.3,287.9 424.9,294.5 425.9,299.5 427.2,301.1 429.2,301.1 431.5,302.1 434.9,303.8 438.2,303.8 443.1,306.1 448.1,304.4 471.2,305.4 503,306 537.5,307.5" fill="none" stroke="#fa0f7d" stroke-width="1.5"/>
<rect x="418" y="316.4" width="2.6" height="2.6" fill="#fa0f7d"/>
<rect x="419" y="316.4" width="2.6" height="2.6" fill="#fa0f7d"/>
<rect x="419" y="301.5" width="2.6" height="2.6" fill="#fa0f7d"/>
<rect x="420" y="278.3" width="2.6" height="2.6" fill="#fa0f7d"/>
<rect x="421" y="258.4" width="2.6" height="2.6" fill="#fa0f7d"/>
<rect x="422" y="268.3" width="2.6" height="2.6" fill="#fa0f7d"/>
<rect x="422.3" y="276.6" width="2.6" height="2.6" fill="#fa0f7d"/>
<rect x="423" y="286.6" width="2.6" height="2.6" fill="#fa0f7d"/>
<rect x="423.6" y="293.2" width="2.6" height="2.6" fill="#fa0f7d"/>
<rect x="424.6" y="298.2" width="2.6" height="2.6" fill="#fa0f7d"/>
<rect x="425.9" y="299.8" width="2.6" height="2.6" fill="#fa0f7d"/>
<rect x="427.9" y="299.8" width="2.6" height="2.6" fill="#fa0f7d"/>
<rect x="430.2" y="300.8" width="2.6" height="2.6" fill="#fa0f7d"/>
<rect x="433.6" y="302.5" width="2.6" height="2.6" fill="#fa0f7d"/>
<rect x="436.9" y="302.5" width="2.6" height="2.6" fill="#fa0f7d"/>
<rect x="441.8" y="304.8" width="2.6" height="2.6" fill="#fa0f7d"/>
<rect x="446.8" y="303.1" width="2.6" height="2.6" fill="#fa0f7d"/>
<rect x="469.9" y="304.1" width="2.6" height="2.6" fill="#fa0f7d"/>
<rect x="501.7" y="304.7" width="2.6" height="2.6" fill="#fa0f7d"/>
<polyline points="418.9,264.7 418.9,234.2 419.9,218.9 421.6,219.9 420.9,234.8 422.3,236.5 422.6,254.7 423.3,258 424.6,258 425.6,246.4 425.9,263 425.9,273 428.2,273.6 430.5,277.9 433.2,286.2 438.2,297.8 443.1,297.8 448.1,303.8 456.4,307.8 471.2,310.6 503,313.1 537.5,314.3" fill="none" stroke="#1e82f5" stroke-width="1.5"/>
<circle cx="418.9" cy="264.7" r="1.4" fill="#1e82f5"/>
<circle cx="418.9" cy="234.2" r="1.4" fill="#1e82f5"/>
<circle cx="419.9" cy="218.9" r="1.4" fill="#1e82f5"/>
<circle cx="421.6" cy="219.9" r="1.4" fill="#1e82f5"/>
<circle cx="420.9" cy="234.8" r="1.4" fill="#1e82f5"/>
<circle cx="422.3" cy="236.5" r="1.4" fill="#1e82f5"/>
<circle cx="422.6" cy="254.7" r="1.4" fill="#1e82f5"/>
<circle cx="423.3" cy="258" r="1.4" fill="#1e82f5"/>
<circle cx="424.6" cy="258" r="1.4" fill="#1e82f5"/>
<circle cx="425.6" cy="246.4" r="1.4" fill="#1e82f5"/>
<circle cx="425.9" cy="263" r="1.4" fill="#1e82f5"/>
<circle cx="425.9" cy="273" r="1.4" fill="#1e82f5"/>
<circle cx="428.2" cy="273.6" r="1.4" fill="#1e82f5"/>
<circle cx="430.5" cy="277.9" r="1.4" fill="#1e82f5"/>
<circle cx="433.2" cy="286.2" r="1.4" fill="#1e82f5"/>
<circle cx="438.2" cy="297.8" r="1.4" fill="#1e82f5"/>
<circle cx="443.1" cy="297.8" r="1.4" fill="#1e82f5"/>
<circle cx="448.1" cy="303.8" r="1.4" fill="#1e82f5"/>
<circle cx="456.4" cy="307.8" r="1.4" fill="#1e82f5"/>
<circle cx="471.2" cy="310.6" r="1.4" fill="#1e82f5"/>
<circle cx="503" cy="313.1" r="1.4" fill="#1e82f5"/>
<rect x="416.2" y="207.3" width="121.3" height="121.9" fill="none" stroke="#1a1a1a" stroke-width="1.2"/>
<line x1="414" y1="218.3" x2="416.2" y2="218.3" stroke="#1a1a1a" stroke-width="1.0" />
<line x1="415" y1="234.8" x2="416.2" y2="234.8" stroke="#1a1a1a" stroke-width="1.0" />
<line x1="414" y1="251.3" x2="416.2" y2="251.3" stroke="#1a1a1a" stroke-width="1.0" />
<line x1="415" y1="267.8" x2="416.2" y2="267.8" stroke="#1a1a1a" stroke-width="1.0" />
<line x1="414" y1="284.3" x2="416.2" y2="284.3" stroke="#1a1a1a" stroke-width="1.0" />
<line x1="415" y1="300.8" x2="416.2" y2="300.8" stroke="#1a1a1a" stroke-width="1.0" />
<line x1="414" y1="317.3" x2="416.2" y2="317.3" stroke="#1a1a1a" stroke-width="1.0" />
<text x="411.2" y="221.3" font-size="9" fill="#000" text-anchor="end" font-weight="bold" textLength="22.3" lengthAdjust="spacingAndGlyphs" stroke="#000" stroke-width="0.3" >0.009</text>
<text x="411.2" y="254.3" font-size="9" fill="#000" text-anchor="end" font-weight="bold" textLength="22.3" lengthAdjust="spacingAndGlyphs" stroke="#000" stroke-width="0.3" >0.006</text>
<text x="411.2" y="287.3" font-size="9" fill="#000" text-anchor="end" font-weight="bold" textLength="22.3" lengthAdjust="spacingAndGlyphs" stroke="#000" stroke-width="0.3" >0.003</text>
<text x="411.2" y="320.3" font-size="9" fill="#000" text-anchor="end" font-weight="bold" textLength="22.3" lengthAdjust="spacingAndGlyphs" stroke="#000" stroke-width="0.3" >0.000</text>
<line x1="416.4" y1="329.2" x2="416.4" y2="331.2" stroke="#1a1a1a" stroke-width="1.0" />
<line x1="428.52" y1="329.2" x2="428.52" y2="330.4" stroke="#1a1a1a" stroke-width="1.0" />
<line x1="440.64" y1="329.2" x2="440.64" y2="331.2" stroke="#1a1a1a" stroke-width="1.0" />
<line x1="452.76" y1="329.2" x2="452.76" y2="330.4" stroke="#1a1a1a" stroke-width="1.0" />
<line x1="464.88" y1="329.2" x2="464.88" y2="331.2" stroke="#1a1a1a" stroke-width="1.0" />
<line x1="477" y1="329.2" x2="477" y2="330.4" stroke="#1a1a1a" stroke-width="1.0" />
<line x1="489.12" y1="329.2" x2="489.12" y2="331.2" stroke="#1a1a1a" stroke-width="1.0" />
<line x1="501.24" y1="329.2" x2="501.24" y2="330.4" stroke="#1a1a1a" stroke-width="1.0" />
<line x1="513.36" y1="329.2" x2="513.36" y2="331.2" stroke="#1a1a1a" stroke-width="1.0" />
<line x1="525.48" y1="329.2" x2="525.48" y2="330.4" stroke="#1a1a1a" stroke-width="1.0" />
<line x1="537.6" y1="329.2" x2="537.6" y2="331.2" stroke="#1a1a1a" stroke-width="1.0" />
<text x="416.4" y="340.2" font-size="9.2" fill="#000" text-anchor="middle" font-weight="bold" textLength="5.6" lengthAdjust="spacingAndGlyphs" stroke="#000" stroke-width="0.3" >0</text>
<text x="440.64" y="340.2" font-size="9.2" fill="#000" text-anchor="middle" font-weight="bold" textLength="10.8" lengthAdjust="spacingAndGlyphs" stroke="#000" stroke-width="0.3" >10</text>
<text x="464.88" y="340.2" font-size="9.2" fill="#000" text-anchor="middle" font-weight="bold" textLength="10.8" lengthAdjust="spacingAndGlyphs" stroke="#000" stroke-width="0.3" >20</text>
<text x="489.12" y="340.2" font-size="9.2" fill="#000" text-anchor="middle" font-weight="bold" textLength="10.8" lengthAdjust="spacingAndGlyphs" stroke="#000" stroke-width="0.3" >30</text>
<text x="513.36" y="340.2" font-size="9.2" fill="#000" text-anchor="middle" font-weight="bold" textLength="10.8" lengthAdjust="spacingAndGlyphs" stroke="#000" stroke-width="0.3" >40</text>
<text x="537.6" y="340.2" font-size="9.2" fill="#000" text-anchor="middle" font-weight="bold" textLength="10.8" lengthAdjust="spacingAndGlyphs" stroke="#000" stroke-width="0.3" >50</text>
<text x="422.7" y="351.3" font-size="10" fill="#000" text-anchor="start" font-weight="bold" textLength="108.8" lengthAdjust="spacingAndGlyphs" stroke="#000" stroke-width="0.3" >Average diameter (nm)</text>
<text x="0" y="0" font-size="10.2" fill="#000" text-anchor="middle" font-weight="bold" textLength="106" lengthAdjust="spacingAndGlyphs" stroke="#000" stroke-width="0.3" transform="translate(385.2,264.3) rotate(-90)">Pore volume (cc/nm/g)</text>
<line x1="484.2" y1="217.4" x2="500" y2="217.4" stroke="#fa0f7d" stroke-width="1.35" />
<rect x="490.8" y="216.1" width="2.6" height="2.6" fill="#fa0f7d"/>
<line x1="484.2" y1="233.2" x2="500" y2="233.2" stroke="#1e82f5" stroke-width="1.35" />
<circle cx="492" cy="233.2" r="1.4" fill="#1e82f5"/>
<text x="502.2" y="219.8" font-size="8.8" fill="#111" text-anchor="start" font-weight="bold" textLength="21.8" lengthAdjust="spacingAndGlyphs" stroke="#111" stroke-width="0.3" >MoS<tspan font-size="6" dy="2">2</tspan></text>
<text x="502.2" y="235.4" font-size="8.8" fill="#111" text-anchor="start" font-weight="bold" textLength="32.8" lengthAdjust="spacingAndGlyphs" stroke="#111" stroke-width="0.3" >MoS<tspan font-size="6" dy="2">2</tspan><tspan dy="-2">/C</tspan></text>
</svg>
</body></html>
